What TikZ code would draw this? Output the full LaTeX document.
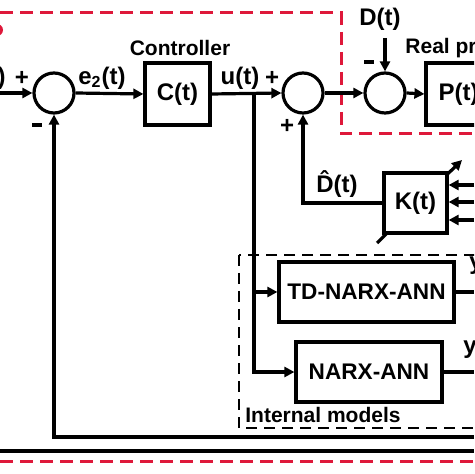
\documentclass[tikz,border=0pt]{standalone}
\usepackage{fontspec}
\setmainfont{Liberation Sans}
\usetikzlibrary{arrows.meta}
\definecolor{loopred}{RGB}{222,24,58}
\newcommand{\minusbar}{\rule{5pt}{2pt}}
\begin{document}
\begin{tikzpicture}[x=0.5pt,y=-0.5pt,
  sum/.style={circle, draw, line width=1.6pt, minimum size=20pt, inner sep=0pt},
  block/.style={draw, line width=1.6pt, fill=white, inner sep=0pt, font=\bfseries\fontsize{12}{14}\selectfont},
  ann/.style={block, font=\bfseries\fontsize{11.3}{13}\selectfont},
  lbl/.style={font=\bfseries\fontsize{12}{14}\selectfont, inner sep=0pt},
  captxt/.style={font=\bfseries\fontsize{10.5}{12}\selectfont, inner sep=0pt},
  wire/.style={line width=1.6pt},
  reddash/.style={draw=loopred, line width=1.5pt, dash pattern=on 6.5pt off 3.5pt},
  >={Triangle[length=5pt,width=5pt]}]
\useasboundingbox (0,0) rectangle (474,474);
\clip (0,0) rectangle (474,474);
% outer loop frame
\draw[reddash] (0,13) -- (341,13) -- (341,134) -- (490,134);
\draw[reddash] (0,461) -- (474,461);
\fill[loopred] (-3,30) circle (6);
% blocks
\node[sum] (s1) at (54,93) {};
\node[block, minimum width=32.5pt, minimum height=31pt] (ctrl) at (177.5,94) {C(t)};
\node[sum] (s2) at (303,93) {};
\node[sum] (s3) at (385,93) {};
\node[block, minimum width=32.5pt, minimum height=31pt] (plant) at (458.5,94) {P(t)};
\draw[wire,->] (377,243) -- (462,160);
\node[block, minimum width=31.5pt, minimum height=30pt] (K) at (415.5,203) {K(t)};
\node[ann, minimum width=87.5pt, minimum height=30pt] (td) at (366.5,292) {TD-NARX-ANN};
\node[ann, minimum width=73pt, minimum height=30pt] (narx) at (369,372) {NARX-ANN};
% points
\coordinate (in) at (0,93);
\coordinate (br) at (254,93);
\coordinate (dtop) at (385,38);
\coordinate (k1) at (474,185);
\coordinate (k2) at (474,202);
\coordinate (k3) at (474,220);
\coordinate (tdout) at (474,292);
\coordinate (narxout) at (474,372);
\coordinate (fb) at (474,437);
\coordinate (ol) at (0,451);
\coordinate (or) at (474,451);
% connections
\draw[wire,->] (in) -- (s1.west);
\draw[wire,->] (s1.east) -- (ctrl.west);
\draw[wire,->] (ctrl.east) -- (s2.west);
\draw[wire,->] (s2.east) -- (s3.west);
\draw[wire,->] (s3.east) -- (plant.west);
\draw[wire,->] (dtop) -- (s3.north);
\draw[wire,->] (K.west) -| (s2.south);
\draw[wire,->] (k1) -- (k1 -| K.east);
\draw[wire,->] (k2) -- (k2 -| K.east);
\draw[wire,->] (k3) -- (k3 -| K.east);
\draw[wire,->] (br) |- (td.west);
\draw[wire,->] (br) |- (narx.west);
\draw[wire] (td.east) -- (tdout);
\draw[wire] (narx.east) -- (narxout);
\draw[wire,->] (fb) -| (s1.south);
\draw[wire] (ol) -- (or);
% internal models frame
\draw[line width=1pt, dash pattern=on 5.5pt off 3.5pt] (239,255) rectangle (490,428);
% labels
\node[lbl, anchor=east] (inlbl) at (6,78) {(t)};
\node[lbl] (p1) at (22,78) {+};
\node[lbl] (m1) at (37,125) {\minusbar};
\node[lbl] (e2) at (102,78) {e\textsubscript{2}(t)};
\node[captxt] (ctrllbl) at (180,48) {Controller};
\node[lbl] (u) at (240,78) {u(t)};
\node[lbl] (p2) at (272,78) {+};
\node[lbl] (p3) at (287,126) {+};
\node[lbl] (dhat) at (337,184) {\^{D}(t)};
\node[lbl] (d) at (380,19) {D(t)};
\node[lbl] (m3) at (369,62) {\minusbar};
\node[captxt, anchor=west] (plantlbl) at (405,48) {Real process};
\node[lbl, anchor=west] (y1) at (469,266) {y};
\node[lbl, anchor=west] (y2) at (463,350) {y};
\node[captxt, anchor=west] (imlbl) at (245,415) {Internal models};
\end{tikzpicture}
\end{document}
